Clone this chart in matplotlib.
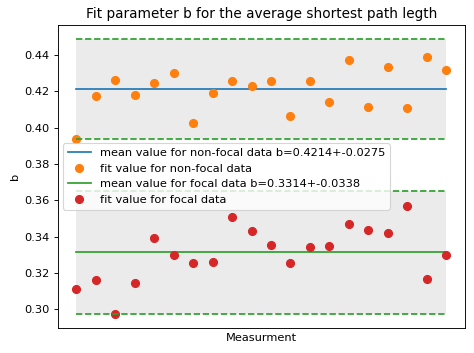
import matplotlib
matplotlib.use("Agg")
import matplotlib.pyplot as plt
import numpy as np

measurements = list(range(20))
nonfocal_b = [0.3936, 0.4173, 0.4262, 0.4178, 0.4246, 0.4302, 0.4025, 0.4191, 0.4255, 0.4227,
              0.4255, 0.4067, 0.4255, 0.4142, 0.4375, 0.4116, 0.4333, 0.4109, 0.4388, 0.4318]
focal_b = [0.3113, 0.3162, 0.2974, 0.3145, 0.3395, 0.3298, 0.3255, 0.3264, 0.3511, 0.3433,
           0.3357, 0.3255, 0.3346, 0.3350, 0.3472, 0.3435, 0.3419, 0.3568, 0.3167, 0.3302]
nonfocal_mean, nonfocal_err = 0.4214, 0.0275
focal_mean, focal_err = 0.3314, 0.0338

DPI = 82
x = np.array(measurements)
fig = plt.figure(figsize=(474/DPI, 353/DPI), dpi=DPI)
ax = fig.add_axes([57.5/474, 1-328/353, (465-57.5)/474, (328-25)/353])

ax.fill_between(x, nonfocal_mean - nonfocal_err, nonfocal_mean + nonfocal_err,
                color='lightgrey', alpha=0.45, linewidth=0)
ax.fill_between(x, focal_mean - focal_err, focal_mean + focal_err,
                color='lightgrey', alpha=0.45, linewidth=0)

ax.plot(x, [nonfocal_mean]*len(x), color='tab:blue',
        label=f'mean value for non-focal data b={nonfocal_mean}+-{nonfocal_err}')
ax.plot(x, nonfocal_b, 'o', color='tab:orange', markersize=7, label='fit value for non-focal data')
ax.plot(x, [focal_mean]*len(x), color='tab:green',
        label=f'mean value for focal data b={focal_mean}+-{focal_err}')
ax.plot(x, focal_b, 'o', color='tab:red', markersize=7, label='fit value for focal data')

for m, e in [(nonfocal_mean, nonfocal_err), (focal_mean, focal_err)]:
    ax.plot(x, [m + e]*len(x), '--', color='tab:green')
    ax.plot(x, [m - e]*len(x), '--', color='tab:green')

ax.set_xticks([])
ax.set_xlabel('Measurment')
ax.set_ylabel('b')
ax.set_title('Fit parameter b for the average shortest path legth')
ax.legend(loc='center left')
fig.savefig('out.png', dpi=DPI)
